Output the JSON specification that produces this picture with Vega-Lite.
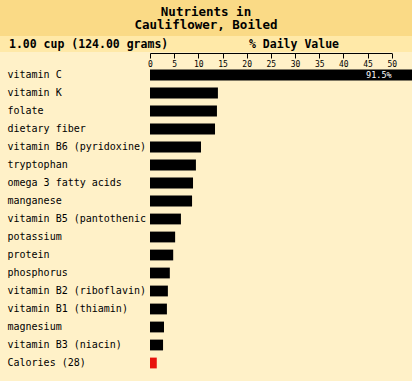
{
  "$schema": "https://vega.github.io/schema/vega-lite/v6.json",
  "padding": 0,
  "autosize": {"type": "pad"},
  "background": "#FFF1C8",
  "spacing": 0,
  "bounds": "flush",
  "config": {"view": {"stroke": null}, "font": "DejaVu Sans Mono"},
  "vconcat": [
    {
      "width": 412,
      "height": 36,
      "view": {"fill": "#FADA86", "stroke": null},
      "data": {"values": [
        {"text": ["Nutrients in", "Cauliflower, Boiled"]}
      ]},
      "mark": {"type": "text", "font": "DejaVu Sans Mono", "fontWeight": "bold", "fontSize": 12.5, "lineHeight": 13, "baseline": "alphabetic", "align": "center", "color": "#000000", "dy": -2.5},
      "encoding": {
        "text": {"field": "text"}
      }
    },
    {
      "width": 412,
      "height": 16,
      "view": {"fill": "#FFE9A8", "stroke": null},
      "data": {"values": [
        {"col": "serving", "text": "1.00 cup (124.00 grams)"},
        {"col": "dv", "text": "% Daily Value"}
      ]},
      "mark": {"type": "text", "font": "DejaVu Sans Mono", "fontWeight": "bold", "fontSize": 11.5, "baseline": "middle", "align": "left", "color": "#000000", "dy": 1},
      "encoding": {
        "x": {"field": "col", "type": "nominal", "sort": null, "scale": {"type": "point", "range": [9, 249], "padding": 0}, "axis": null},
        "text": {"field": "text"}
      }
    },
    {
      "width": 412,
      "height": 329,
      "data": {"values": [
        {"nutrient": "vitamin C", "dv": 91.5, "kind": "nutrient", "label": "91.5%"},
        {"nutrient": "vitamin K", "dv": 14.05, "kind": "nutrient"},
        {"nutrient": "folate", "dv": 13.85, "kind": "nutrient"},
        {"nutrient": "dietary fiber", "dv": 13.45, "kind": "nutrient"},
        {"nutrient": "vitamin B6 (pyridoxine)", "dv": 10.55, "kind": "nutrient"},
        {"nutrient": "tryptophan", "dv": 9.5, "kind": "nutrient"},
        {"nutrient": "omega 3 fatty acids", "dv": 8.9, "kind": "nutrient"},
        {"nutrient": "manganese", "dv": 8.7, "kind": "nutrient"},
        {"nutrient": "vitamin B5 (pantothenic", "dv": 6.4, "kind": "nutrient"},
        {"nutrient": "potassium", "dv": 5.2, "kind": "nutrient"},
        {"nutrient": "protein", "dv": 4.8, "kind": "nutrient"},
        {"nutrient": "phosphorus", "dv": 4.1, "kind": "nutrient"},
        {"nutrient": "vitamin B2 (riboflavin)", "dv": 3.7, "kind": "nutrient"},
        {"nutrient": "vitamin B1 (thiamin)", "dv": 3.5, "kind": "nutrient"},
        {"nutrient": "magnesium", "dv": 2.9, "kind": "nutrient"},
        {"nutrient": "vitamin B3 (niacin)", "dv": 2.7, "kind": "nutrient"},
        {"nutrient": "Calories (28)", "dv": 1.4, "kind": "calories"}
      ]},
      "encoding": {
        "y": {
          "field": "nutrient", "type": "nominal", "sort": null,
          "scale": {"range": [14, 320], "paddingInner": 0.4, "paddingOuter": 0.2},
          "axis": {"orient": "left", "title": null, "domain": false, "ticks": false, "grid": false, "labelAlign": "left", "labelPadding": -7, "labelBaseline": "middle", "labelFont": "DejaVu Sans Mono", "labelFontSize": 10, "labelColor": "#000000", "labelLimit": 400}
        }
      },
      "layer": [
        {
          "mark": {"type": "bar", "clip": true},
          "encoding": {
            "x": {
              "field": "dv", "type": "quantitative",
              "scale": {"domain": [0, 50], "range": [150, 391.7], "nice": false, "zero": true},
              "axis": {"orient": "top", "title": null, "values": [0, 5, 10, 15, 20, 25, 30, 35, 40, 45, 50], "offset": -1, "tickSize": -5, "labelPadding": -6, "labelBaseline": "middle", "labelFont": "DejaVu Sans Mono", "labelFontSize": 8, "labelColor": "#000000", "tickColor": "#000000", "domainColor": "#000000", "grid": false, "labelFlush": false, "labelOverlap": false}
            },
            "color": {"field": "kind", "type": "nominal", "scale": {"domain": ["nutrient", "calories"], "range": ["#000000", "#E8120C"]}, "legend": null}
          }
        },
        {
          "transform": [{"filter": "datum.dv > 50"}],
          "mark": {"type": "text", "align": "right", "baseline": "middle", "color": "#FFFFFF", "font": "DejaVu Sans Mono", "fontSize": 8.5, "dx": 0},
          "encoding": {
            "x": {"datum": 50},
            "text": {"field": "label"}
          }
        }
      ]
    }
  ]
}
